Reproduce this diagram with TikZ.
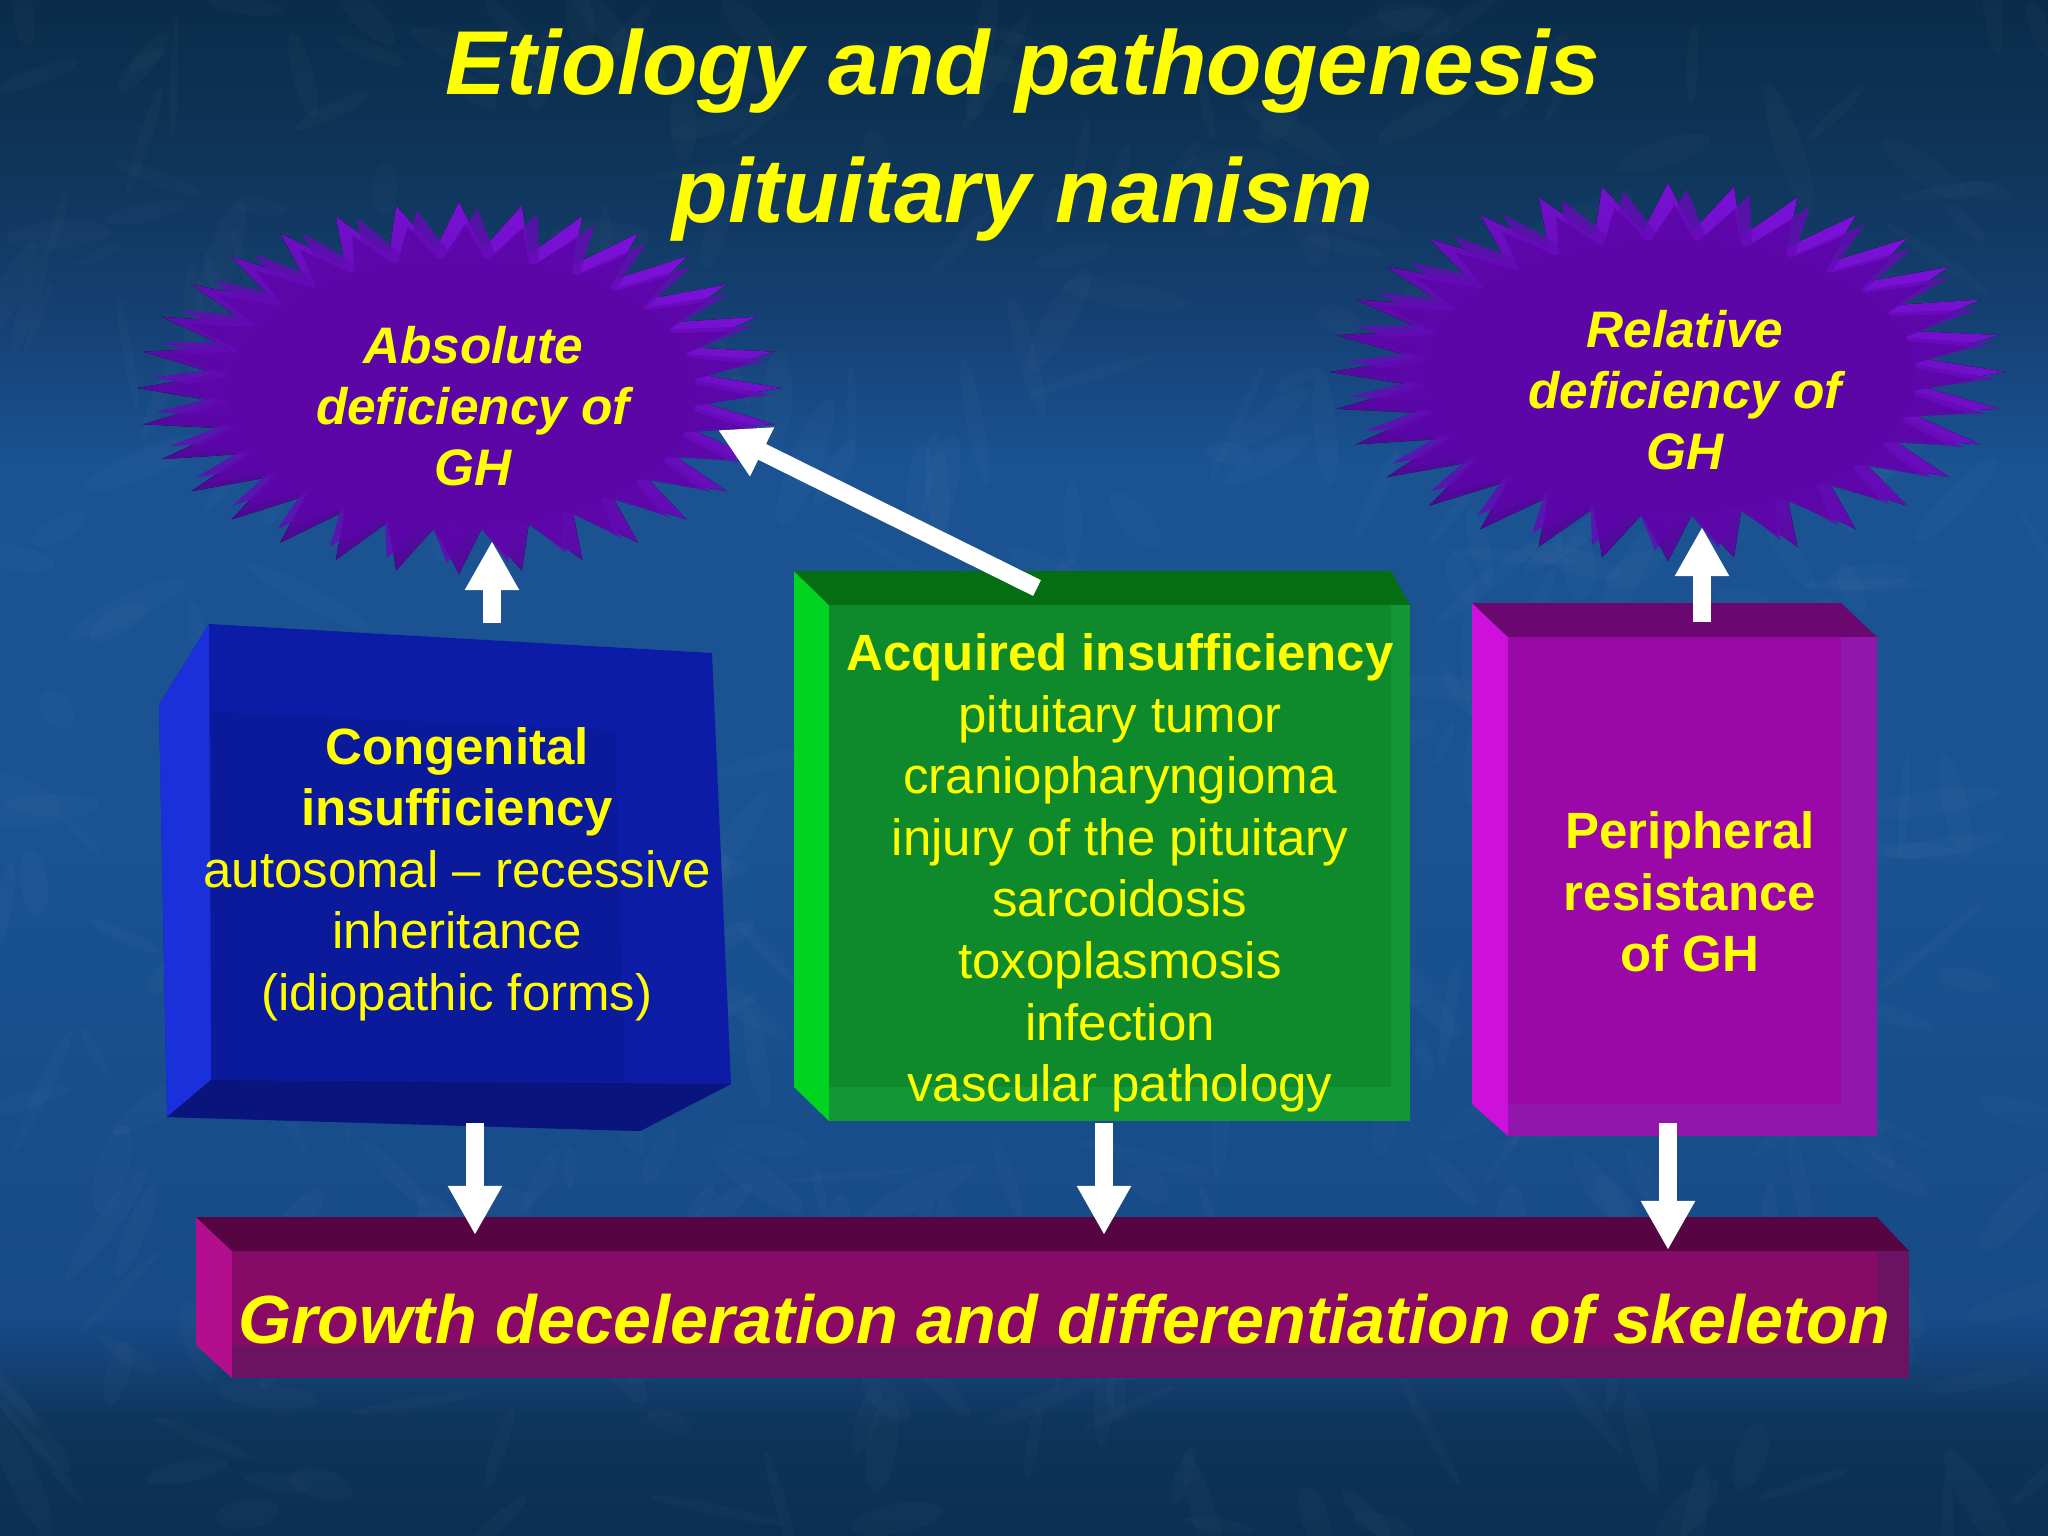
\documentclass[tikz,border=0pt]{standalone}
\usepackage{fontspec}
\setmainfont{Liberation Sans}
\usetikzlibrary{arrows.meta,calc}
\definecolor{ylw}{HTML}{FFFF00}
\definecolor{bgA}{HTML}{0B2F52}
\definecolor{bgB}{HTML}{0D345A}
\definecolor{bgC}{HTML}{174A86}
\definecolor{bgD}{HTML}{1A5292}
\definecolor{bgE}{HTML}{143F70}
\definecolor{bgF}{HTML}{0E3458}
\definecolor{bgG}{HTML}{0B2C4A}
\definecolor{stHi}{HTML}{7E12DC}
\definecolor{stLo}{HTML}{4C0792}
\definecolor{stMid}{HTML}{6609B8}
\definecolor{stMain}{HTML}{5C06A8}
\definecolor{blFront}{HTML}{0A1892}
\definecolor{blBack}{HTML}{0D1CA6}
\definecolor{blLeft}{HTML}{1A30DA}
\definecolor{blBot}{HTML}{09147C}
\definecolor{grFront}{HTML}{0E8A2C}
\definecolor{grStrip}{HTML}{129636}
\definecolor{grLeft}{HTML}{00D420}
\definecolor{grTop}{HTML}{066E12}
\definecolor{mgFront}{HTML}{9A08A8}
\definecolor{mgStrip}{HTML}{9016AC}
\definecolor{mgLeft}{HTML}{CE10DC}
\definecolor{mgTop}{HTML}{6A0870}
\definecolor{btFront}{HTML}{860A66}
\definecolor{btStrip}{HTML}{6C1262}
\definecolor{btLeft}{HTML}{B20E8E}
\definecolor{btTop}{HTML}{570442}
\pgfdeclareverticalshading{bgshade}{100bp}{color(0bp)=(bgA); color(25bp)=(bgA); color(28.5bp)=(bgB); color(32bp)=(bgC); color(47.5bp)=(bgD); color(60bp)=(bgD); color(65bp)=(bgE); color(70bp)=(bgF); color(75bp)=(bgG); color(100bp)=(bgG)}
\newcommand\burst[6]{plot[samples at={0,1,...,63},variable=\t]({#1+(1-#5*mod(\t,2))*#3*cos(\t*5.625+#6)},{#2+(1-#5*mod(\t,2))*#4*sin(\t*5.625+#6)}) -- cycle}
\tikzset{
  ttl/.style={text=ylw, font=\fontsize{25.8}{36.4}\selectfont\bfseries\itshape, align=center, inner sep=0pt},
  sttxt/.style={text=ylw, font=\fontsize{14.6}{17.4}\selectfont\bfseries\itshape, align=center, inner sep=0pt},
  boxtxt/.style={text=ylw, font=\fontsize{14.5}{17.5}\selectfont, align=center, inner sep=0pt},
  bottxt/.style={text=ylw, font=\fontsize{19.4}{24}\selectfont\bfseries\itshape, inner sep=0pt},
  barrow/.style={draw=white, line width=5pt, -{Triangle[width=14.5pt, length=14pt]}},
}
\begin{document}
\begin{tikzpicture}[x=0.01cm,y=-0.01cm]
\useasboundingbox (0,0) rectangle (2048,1536);
% background
\begin{scope}[y=0.01cm]
\shade[shading=bgshade] (0,-1536) rectangle (2048,0);
\end{scope}
\pgfmathsetseed{7}
\foreach \i in {1,...,420}{
  \fill[white,opacity=0.018, shift={({rnd*2048},{rnd*1536})}, rotate={rnd*180}] (0,0) ellipse ({20+rnd*50} and {4+rnd*12});
}
% left starburst
\fill[top color=stHi, bottom color=stLo, shading angle=-25] \burst{459}{388}{322}{186}{0.25}{0};
\fill[stMid, opacity=.8] \burst{462}{386}{310}{178}{0.26}{2.8};
\fill[stMain, opacity=.85] \burst{458}{392}{294}{168}{0.22}{1.4};
\fill[stMain] (461,392) ellipse (235 and 134);
% right starburst
\fill[top color=stHi, bottom color=stLo, shading angle=-25] \burst{1668}{372}{338}{189}{0.25}{0};
\fill[stMid, opacity=.8] \burst{1671}{370}{325}{181}{0.26}{2.8};
\fill[stMain, opacity=.85] \burst{1667}{376}{308}{171}{0.22}{1.4};
\fill[stMain] (1670,376) ellipse (246 and 136);
% blue box
\fill[blBack] (209,624) -- (712,653) -- (731,1084) -- (640,1131) -- (167,1117) -- (159,705) -- cycle;
\fill[blLeft] (209,624) -- (159,705) -- (167,1117) -- (211,1080) -- cycle;
\fill[blBot] (167,1117) -- (640,1131) -- (731,1084) -- (211,1080) -- cycle;
\fill[blFront, opacity=.5] (211,712) -- (615,730) -- (625,1082) -- (211,1080) -- cycle;
% green box
\fill[grLeft] (794,571) -- (829,605) -- (829,1121) -- (794,1087) -- cycle;
\fill[grTop] (794,571) -- (1391,571) -- (1410,605) -- (829,605) -- cycle;
\fill[grStrip] (829,605) rectangle (1410,1121);
\fill[grFront] (829,605) rectangle (1391,1087);
% magenta box
\fill[mgLeft] (1472,603) -- (1508,637) -- (1508,1136) -- (1472,1104) -- cycle;
\fill[mgTop] (1472,603) -- (1841,603) -- (1877,637) -- (1508,637) -- cycle;
\fill[mgStrip] (1508,637) rectangle (1877,1136);
\fill[mgFront] (1508,637) rectangle (1841,1104);
% bottom box
\fill[btLeft] (196,1217) -- (232,1251) -- (232,1378) -- (196,1345) -- cycle;
\fill[btTop] (196,1217) -- (1877,1217) -- (1909,1251) -- (232,1251) -- cycle;
\fill[btStrip] (232,1251) rectangle (1909,1378);
\fill[btFront] (232,1251) rectangle (1877,1345);
% texts
\node[ttl] (title) at (1023,135) {Etiology and pathogenesis\\pituitary nanism};
\node[sttxt] (absT) at (473,406) {Absolute\\deficiency of\\GH};
\node[sttxt] (relT) at (1685,390) {Relative\\deficiency of\\GH};
\node[boxtxt] (blueT) at (457,874) {\textbf{Congenital}\\\textbf{insufficiency}\\autosomal – recessive\\inheritance\\(idiopathic forms)};
\node[boxtxt] (greenT) at (1120,873) {\textbf{Acquired insufficiency}\\pituitary tumor\\craniopharyngioma\\injury of the pituitary\\sarcoidosis\\toxoplasmosis\\infection\\vascular pathology};
\node[boxtxt, font=\fontsize{14.5}{17.5}\selectfont\bfseries] (magT) at (1690,892) {Peripheral\\resistance\\of GH};
\node[bottxt] (botT) at (1064,1319) {Growth deceleration and differentiation of skeleton};
% arrows
\coordinate (u1s) at (492,623); \coordinate (u1e) at (492,541);
\coordinate (u2s) at (1702,622); \coordinate (u2e) at (1702,527);
\coordinate (dgs) at (1037,588); \coordinate (dge) at (718,430);
\coordinate (d1s) at (475,1123); \coordinate (d1e) at (475,1235);
\coordinate (d2s) at (1104,1123); \coordinate (d2e) at (1104,1235);
\coordinate (d3s) at (1668,1123); \coordinate (d3e) at (1668,1250);
\draw[barrow] (u1s) -- (u1e);
\draw[barrow] (u2s) -- (u2e);
\draw[barrow] (dgs) -- (dge);
\draw[barrow] (d1s) -- (d1e);
\draw[barrow] (d2s) -- (d2e);
\draw[barrow] (d3s) -- (d3e);
\end{tikzpicture}
\end{document}
